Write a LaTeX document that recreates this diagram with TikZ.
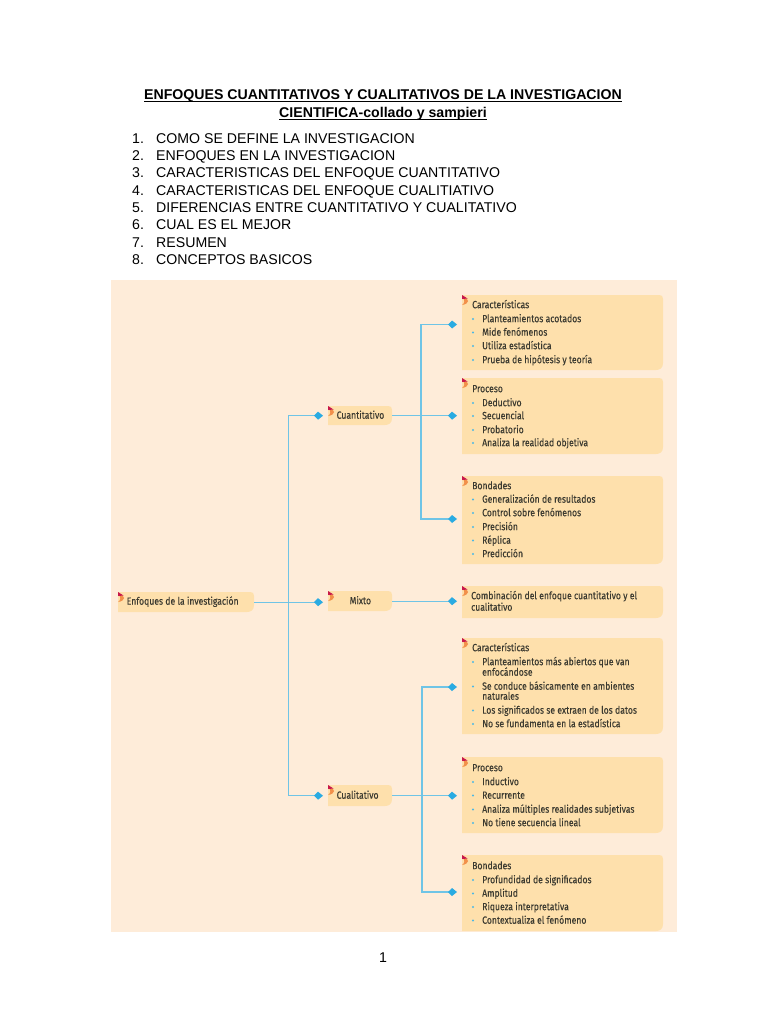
\documentclass[tikz,border=0pt]{standalone}
\usepackage{fontspec}
\setmainfont{Liberation Sans}
\newfontfamily\chartfont[FakeStretch=0.83,FakeBold=0.15]{Fira Sans}
\usetikzlibrary{arrows.meta}
\definecolor{panelc}{HTML}{FEECD9}
\definecolor{boxc}{HTML}{FEE0AC}
\definecolor{linec}{HTML}{6FC4E6}
\definecolor{tipc}{HTML}{2AABE2}
\definecolor{chartink}{HTML}{3B3A30}
\definecolor{orn1}{HTML}{F2904A}
\definecolor{orn2}{HTML}{C8184A}
\newcount\linecnt
\tikzset{
  x=1pt,y=-1pt,
  headline/.style={font=\fontsize{14.15}{16}\selectfont,text=black,inner sep=0pt,anchor=base west},
  chartline/.style={font=\chartfont\fontsize{10.4}{11}\selectfont,text=chartink,inner sep=0pt,anchor=base west},
  boxshape/.style={inner sep=0pt,minimum width=0pt,anchor=north west},
  conn/.style={draw=linec,line width=1pt,shorten >=5pt,-{Kite[length=9pt,width=8pt,inset=4pt,fill=tipc,color=tipc]}},
}
% name, x0, y0, x1, y1
\newcommand{\cbox}[5]{%
  \fill[boxc] (#2,#3) -- (#4-4,#3) .. controls (#4-1,#3) and (#4,#3+1) .. (#4,#3+4)
     -- (#4,#5-7) .. controls (#4,#5-2) and (#4-3,#5) .. (#4-7,#5) -- (#2,#5) -- cycle;
  \node[boxshape,minimum width=#4pt-#2pt,minimum height=#5pt-#3pt] (#1) at (#2,#3) {};
  \fill[orn1] (#2+0.5,#3+2.5) .. controls (#2+8,#3+3) and (#2+8,#3+9) .. (#2,#3+10)
     .. controls (#2+3,#3+8) and (#2+3,#3+5) .. cycle;
  \fill[orn2] (#2,#3) -- (#2+5.5,#3+3.5) -- (#2,#3+4) -- cycle;
}
\newcommand{\ctitle}[3]{\global\advance\linecnt by 1
  \node[chartline] (L\the\linecnt) at (#1,#2+3.2) {#3};}
\newcommand{\citem}[2]{\global\advance\linecnt by 1
  \fill[tipc!85] (\boxx+11,#1) circle[radius=1.1pt];
  \node[chartline] (L\the\linecnt) at (\boxx+20,#1+3.2) {#2};}
\newcommand{\cwrap}[2]{\global\advance\linecnt by 1
  \node[chartline] (L\the\linecnt) at (\boxx+20,#1+3.2) {#2};}
\def\boxx{462}
\begin{document}
\begin{tikzpicture}
\useasboundingbox (0,0) rectangle (768,1024);
\fill[white] (0,0) rectangle (768,1024);
% header
\node[headline,font=\fontsize{14.15}{16}\selectfont\bfseries,anchor=base] (h1) at (383,99.5) {\underline{\smash{ENFOQUES CUANTITATIVOS Y CUALITATIVOS DE LA INVESTIGACION}}};
\node[headline,font=\fontsize{14.15}{16}\selectfont\bfseries,anchor=base] (h2) at (383,117.5) {\underline{\smash{CIENTIFICA-collado y sampieri}}};
\foreach \n/\yy/\t in {1/143.2/COMO SE DEFINE LA INVESTIGACION,
  2/160.2/ENFOQUES EN LA INVESTIGACION,
  3/177.7/CARACTERISTICAS DEL ENFOQUE CUANTITATIVO,
  4/195.2/CARACTERISTICAS DEL ENFOQUE CUALITIATIVO,
  5/212.2/DIFERENCIAS ENTRE CUANTITATIVO Y CUALITATIVO,
  6/229.7/CUAL ES EL MEJOR,
  7/247.2/RESUMEN,
  8/264.7/CONCEPTOS BASICOS}{
  \node[headline] (num\n) at (132,\yy) {\n.};
  \node[headline] (item\n) at (156,\yy) {\t};
}
\node[headline,anchor=base] (page) at (383,962) {1};
% panel
\fill[panelc] (111,280) rectangle (677,932);
% boxes
\cbox{enf}{118}{592}{254}{612}
\cbox{cuant}{328}{406}{392}{425}
\cbox{mix}{328}{591}{392}{611}
\cbox{cual}{328}{785}{392}{806}
\cbox{qa}{462}{295}{663}{370}
\cbox{qb}{462}{378}{663}{454}
\cbox{qc}{462}{476}{663}{564}
\cbox{ma}{462}{586}{663}{618}
\cbox{la}{462}{638}{663}{734}
\cbox{lb}{462}{757}{663}{833}
\cbox{lc}{462}{855}{663}{931}
% connector geometry
\coordinate (trunk) at (288.5,602);
\coordinate (qtrunk) at (421,415.5);
\coordinate (ltrunk) at (422,795.5);
\coordinate (qaT) at (462,324.5);
\coordinate (qcT) at (462,519);
\coordinate (laT) at (462,687);
\coordinate (lcT) at (462,892);
\draw[conn] (enf.east) -- (enf.east -| mix.west);
\draw[conn,line width=1.2pt] (trunk) |- (cuant.west);
\draw[conn,line width=1.2pt] (trunk) |- (cual.west);
\draw[conn] (mix.east) -- (mix.east -| ma.west);
\draw[conn] (cuant.east) -- (cuant.east -| qb.west);
\draw[conn,line width=1.2pt] (qtrunk) |- (qaT);
\draw[conn,line width=1.2pt] (qtrunk) |- (qcT);
\draw[conn] (cual.east) -- (cual.east -| lb.west);
\draw[conn,line width=1.2pt] (ltrunk) |- (laT);
\draw[conn,line width=1.2pt] (ltrunk) |- (lcT);
% labels of the tree
\ctitle{126.5}{601.5}{Enfoques de la investigación}
\ctitle{336.5}{415.5}{Cuantitativo}
\ctitle{349.5}{601}{Mixto}
\ctitle{336.5}{795.5}{Cualitativo}
% quantitative
\ctitle{472}{305}{Características}
\citem{319}{Planteamientos acotados}
\citem{332.5}{Mide fenómenos}
\citem{346}{Utiliza estadística}
\citem{360}{Prueba de hipótesis y teoría}
\ctitle{472}{389}{Proceso}
\citem{403}{Deductivo}
\citem{416}{Secuencial}
\citem{430}{Probatorio}
\citem{443}{Analiza la realidad objetiva}
\ctitle{472}{486}{Bondades}
\citem{499.5}{Generalización de resultados}
\citem{513}{Control sobre fenómenos}
\citem{527}{Precisión}
\citem{540.5}{Réplica}
\citem{554}{Predicción}
% mixed
\ctitle{471}{596}{Combinación del enfoque cuantitativo y el}
\ctitle{471}{607.5}{cualitativo}
% qualitative
\ctitle{472}{648}{Características}
\citem{662}{Planteamientos más abiertos que van}
\cwrap{672.5}{enfocándose}
\citem{686.5}{Se conduce básicamente en ambientes}
\cwrap{696.5}{naturales}
\citem{710.5}{Los significados se extraen de los datos}
\citem{724}{No se fundamenta en la estadística}
\ctitle{472}{768}{Proceso}
\citem{782}{Inductivo}
\citem{795.5}{Recurrente}
\citem{809.5}{Analiza múltiples realidades subjetivas}
\citem{823}{No tiene secuencia lineal}
\ctitle{472}{866}{Bondades}
\citem{880}{Profundidad de significados}
\citem{893.5}{Amplitud}
\citem{907}{Riqueza interpretativa}
\citem{920.5}{Contextualiza el fenómeno}
\end{tikzpicture}
\end{document}
